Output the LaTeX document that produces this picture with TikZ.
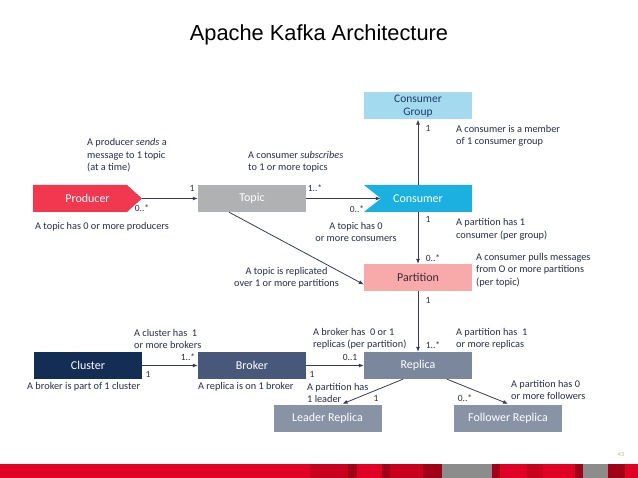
\documentclass[tikz,border=0pt]{standalone}
\usepackage{fontspec}
\setmainfont{Carlito}
\newfontfamily\titlefont{Liberation Sans}
\usetikzlibrary{arrows.meta}
\definecolor{txtc}{HTML}{262E4A}
\definecolor{linec}{HTML}{353B58}
\definecolor{prodred}{HTML}{F2384F}
\definecolor{topicgray}{HTML}{B0B1B3}
\definecolor{consblue}{HTML}{1BB0E0}
\definecolor{grpblue}{HTML}{A3DAF0}
\definecolor{grptxt}{HTML}{1F3B66}
\definecolor{partpink}{HTML}{F8A9A9}
\definecolor{parttxt}{HTML}{3A2A3A}
\definecolor{clusterc}{HTML}{132D54}
\definecolor{brokerc}{HTML}{47587A}
\definecolor{replicac}{HTML}{7B879C}
\definecolor{subrepc}{HTML}{8993A6}
\definecolor{barA}{HTML}{E00025}
\definecolor{barB}{HTML}{C8001E}
\definecolor{barC}{HTML}{A00018}
\definecolor{barG}{HTML}{8C8C8C}
\definecolor{pagec}{HTML}{A8C080}
\begin{document}
\begin{tikzpicture}[x=1pt,y=-1pt,
  box/.style={rectangle,minimum width=108pt,minimum height=27pt,inner sep=0pt,
    font=\fontsize{12}{12}\selectfont,text=white},
  lbl/.style={inner sep=0pt,text=txtc,font=\fontsize{10.3}{12.4}\selectfont,align=left,anchor=west},
  clbl/.style={inner sep=0pt,text=txtc,font=\fontsize{10.3}{12.4}\selectfont,align=center},
  mult/.style={inner sep=0pt,text=txtc,font=\fontsize{9.5}{11}\selectfont},
  arr/.style={draw=linec,line width=0.8pt,-{Latex[length=5pt,width=4pt]}}]
\useasboundingbox (0,0) rectangle (638,478);
\fill[white] (0,0) rectangle (638,478);
% title
\node[inner sep=0pt,font=\titlefont\fontsize{21.8}{24}\selectfont,text=black] (title) at (319,35) {Apache Kafka Architecture};
% shapes
\fill[prodred] (33,185) -- (127,185) -- (142,198.5) -- (127,212) -- (33,212) -- cycle;
\node[box,minimum width=109pt] (producer) at (87.5,198.5) {Producer};
\node[box,fill=topicgray] (topic) at (252,198.5) {Topic};
\fill[consblue] (364,185) -- (472,185) -- (472,212) -- (364,212) -- (381,198.5) -- cycle;
\node[box] (consumer) at (418,198.5) {Consumer};
\node[box,fill=grpblue,text=grptxt,align=center,font=\fontsize{11.5}{13}\selectfont] (group) at (418,106) {Consumer\\Group};
\node[box,fill=partpink,text=parttxt] (partition) at (418,277.5) {Partition};
\node[box,fill=clusterc] (cluster) at (88,365.5) {Cluster};
\node[box,fill=brokerc] (broker) at (252,365.5) {Broker};
\node[box,fill=replicac] (replica) at (418,365.5) {Replica};
\node[box,fill=subrepc] (leader) at (327.5,418.5) {Leader Replica};
\node[box,fill=subrepc] (follower) at (508,418.5) {Follower Replica};
% connectors
\draw[arr] (producer.east) -- (topic.west);
\draw[arr] (topic.east) -- ([xshift=17pt]consumer.west);
\draw[arr] (consumer.north) -- (group.south);
\draw[arr] (consumer.south) -- (partition.north);
\draw[arr] ([xshift=-23pt]topic.south) -- ([yshift=-7pt]partition.west);
\draw[arr] (partition.south) -- (replica.north);
\draw[arr] (cluster.east) -- (broker.west);
\draw[arr] (broker.east) -- (replica.west);
\draw[arr] ([xshift=-15pt]replica.south) -- ([xshift=15pt,yshift=1pt]leader.north);
\draw[arr] ([xshift=29pt]replica.south) -- ([yshift=1pt]follower.north);
% multiplicities
\node[mult] (m1) at (192,188) {1};
\node[mult] (m2) at (142,208) {0..*};
\node[mult] (m3) at (315,188) {1..*};
\node[mult] (m4) at (357,209) {0..*};
\node[mult] (m5) at (428,128) {1};
\node[mult] (m6) at (428,219) {1};
\node[mult] (m7) at (433,258) {0..*};
\node[mult] (m8) at (428,300) {1};
\node[mult] (m9) at (433,345) {1..*};
\node[mult] (m10) at (188,357) {1..*};
\node[mult] (m11) at (148,374) {1};
\node[mult] (m12) at (350,357) {0..1};
\node[mult] (m13) at (312,374) {1};
\node[mult] (m14) at (376,398) {1};
\node[mult] (m15) at (465,398) {0..*};
% labels
\node[lbl] (l1) at (87,155.5) {A producer \textit{sends} a\\message to 1 topic\\(at a time)};
\node[lbl] (l2) at (248,162) {A consumer \textit{subscribes}\\to 1 or more topics};
\node[lbl] (l3) at (35,227) {A topic has 0 or more producers};
\node[clbl] (l4) at (356,232) {A topic has 0\\or more consumers};
\node[clbl] (l5) at (286.5,277.5) {A topic is replicated\\over 1 or more partitions};
\node[lbl] (l6) at (456,136) {A consumer is a member\\of 1 consumer group};
\node[lbl] (l7) at (456,229.5) {A partition has 1\\consumer (per group)};
\node[lbl] (l8) at (476,270) {A consumer pulls messages\\from O or more partitions\\(per topic)};
\node[lbl] (l9) at (134,339) {A cluster has\ \ 1\\or more brokers};
\node[lbl] (l10) at (313,339) {A broker has\ \ 0 or 1\\replicas (per partition)};
\node[lbl] (l11) at (456,339) {A partition has\ \ 1\\or more replicas};
\node[lbl] (l12) at (27,387) {A broker is part of 1 cluster};
\node[lbl] (l13) at (198,387) {A replica is on 1 broker};
\node[lbl] (l14) at (307,393) {A partition has\\1 leader};
\node[lbl] (l15) at (511,390) {A partition has 0\\or more followers};
% footer bar
\fill[barA] (0,464) rectangle (638,478);
\fill[barB] (310,464) rectangle (348,478);
\fill[barC] (348,464) rectangle (357,478);
\fill[barC] (382,464) rectangle (390,478);
\fill[barB] (390,464) rectangle (423,478);
\fill[barC] (423,464) rectangle (442,478);
\fill[barG] (442,464) rectangle (492,478);
\fill[barC] (492,464) rectangle (500,478);
\fill[barB] (527,464) rectangle (543,478);
\fill[barC] (575,464) rectangle (583,478);
\fill[barG] (583,464) rectangle (608,478);
\fill[barC] (608,464) rectangle (625,478);
\node[inner sep=0pt,text=pagec,font=\fontsize{6}{7}\selectfont] (page) at (621,455) {43};
\end{tikzpicture}
\end{document}
